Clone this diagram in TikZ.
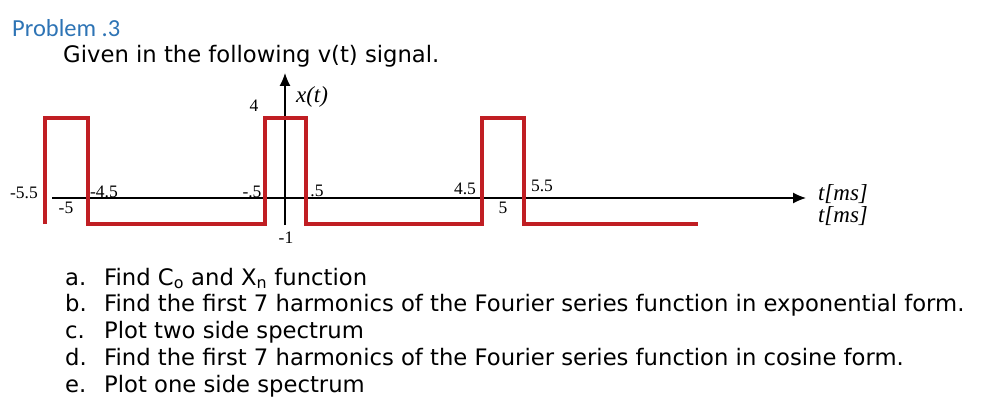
\documentclass[tikz,border=0pt]{standalone}
\usepackage{fontspec}
\usetikzlibrary{arrows.meta}
\setmainfont{DejaVu Sans}
\newfontfamily\tnr{Liberation Serif}
\newfontfamily\calfont{Carlito}
\definecolor{sig}{RGB}{192,30,35}
\definecolor{ttl}{RGB}{46,116,181}
\begin{document}
\begin{tikzpicture}[x=1pt,y=-1pt,
  lbl/.style={font=\tnr\fontsize{17.5}{17.5}\selectfont,inner sep=0pt},
  big/.style={font=\tnr\itshape\fontsize{23}{23}\selectfont,inner sep=0pt},
  txt/.style={font=\fontsize{22.7}{24}\selectfont,anchor=west,inner sep=0pt},
  sigline/.style={draw=sig,line width=3.2pt}]
\useasboundingbox (0,0) rectangle (982,414);
\node[font=\calfont\fontsize{24.5}{26}\selectfont,text=ttl,anchor=west,inner sep=0pt] (title) at (12,28) {Problem .3};
\node[txt] (given) at (63,56) {Given in the following v(t) signal.};
% axes
\coordinate (xs) at (52,198); \coordinate (xe) at (806,198);
\coordinate (ys) at (285,225); \coordinate (ye) at (285,73);
\draw[line width=1.2pt,-{Latex[length=13pt,width=11pt]}] (xs) -- (xe);
\draw[line width=1.2pt,-{Latex[length=13pt,width=11pt]}] (ys) -- (ye);
% signal
\draw[sigline] (45,224) -- (45,118) -- (88,118) -- (88,224) -- (265,224) -- (265,118) -- (306,118) -- (306,224) -- (482,224) -- (482,118) -- (524,118) -- (524,224) -- (698,224);
% labels
\node[lbl] (a1) at (24,193) {-5.5};
\node[lbl] (a2) at (66,208) {-5};
\node[lbl] (a3) at (104,192) {-4.5};
\node[lbl] (a4) at (252,192) {-.5};
\node[lbl] (a5) at (317,191) {.5};
\node[lbl] (a6) at (465,189) {4.5};
\node[lbl] (a7) at (503,208) {5};
\node[lbl] (a8) at (542,186) {5.5};
\node[lbl] (a9) at (254,106) {4};
\node[lbl] (a10) at (286,238) {-1};
\node[big] (xt) at (312,97) {x(t)};
\node[big] (t1) at (843,194) {t[ms]};
\node[big] (t2) at (843,216) {t[ms]};
% list
\foreach \l/\y/\t [count=\i] in {a./278/{Find C\textsubscript{o} and X\textsubscript{n} function},
  b./304/{Find the first 7 harmonics of the Fourier series function in exponential form.},
  c./331/{Plot two side spectrum},
  d./358/{Find the first 7 harmonics of the Fourier series function in cosine form.},
  e./385/{Plot one side spectrum}}{
  \node[txt,anchor=base west] (m\i) at (65,\y+7) {\l};
  \node[txt,anchor=base west] (n\i) at (104,\y+7) {\t};
}
\end{tikzpicture}
\end{document}
